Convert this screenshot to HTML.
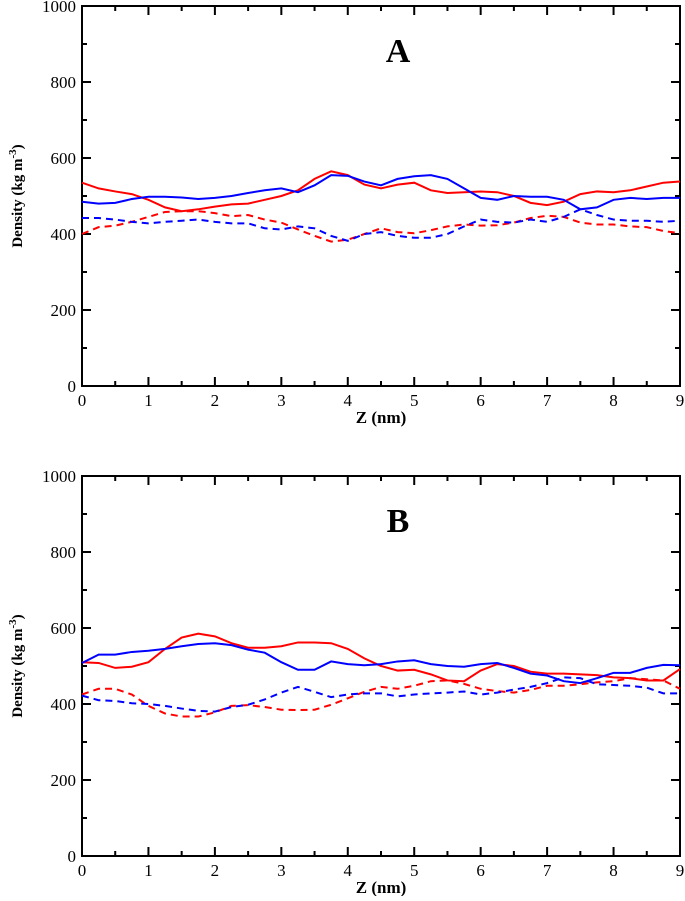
<!DOCTYPE html>
<html><head><meta charset="utf-8"><style>
body{margin:0;background:#fff}
svg text{font-family:"Liberation Serif",serif;fill:#000}
</style></head><body>
<svg id="c" width="685" height="896" xmlns="http://www.w3.org/2000/svg"></svg>
<script>
const xs=[0,0.25,0.5,0.75,1,1.25,1.5,1.75,2,2.25,2.5,2.75,3,3.25,3.5,3.75,4,4.25,4.5,4.75,5,5.25,5.5,5.75,6,6.25,6.5,6.75,7,7.25,7.5,7.75,8,8.25,8.5,8.75,9];
const aRedSolid=[535,520,512,505,490,470,460,465,472,478,480,490,500,515,545,565,555,530,520,530,535,515,508,510,512,510,500,482,476,485,505,512,510,515,525,535,538];
const aBlueSolid=[485,480,482,492,498,498,496,492,495,500,508,515,520,510,528,555,553,538,528,545,552,555,545,520,495,490,500,498,498,490,465,470,490,495,492,495,495];
const aRedDash=[400,418,422,432,445,458,460,460,455,447,450,438,430,412,395,380,385,400,415,405,402,410,420,425,422,423,430,442,448,445,430,425,425,420,418,408,402];
const aBlueDash=[442,442,438,432,428,432,435,438,432,428,428,415,412,420,415,395,382,400,405,395,390,390,400,420,438,432,430,438,432,445,465,450,438,435,435,432,435];
const bRedSolid=[510,508,495,498,510,545,575,585,578,560,548,548,552,562,562,560,545,520,500,488,490,478,462,460,488,505,500,485,480,480,478,476,470,468,462,462,492];
const bBlueSolid=[508,530,530,537,540,545,552,558,560,555,543,535,510,490,490,512,505,502,505,512,515,505,500,498,505,508,495,480,475,460,455,468,482,482,495,503,502];
const bRedDash=[425,440,440,425,395,375,367,367,378,395,397,392,385,384,385,398,415,432,445,440,448,460,462,453,440,434,430,437,448,448,452,457,460,468,465,462,440];
const bBlueDash=[422,410,408,402,400,395,388,382,380,392,398,412,430,445,432,418,425,428,428,420,425,428,430,433,425,430,438,445,455,470,468,452,450,448,443,428,428];
const yTicks=[0,200,400,600,800,1000];
const xTicks=[0,1,2,3,4,5,6,7,8,9];

const NS="http://www.w3.org/2000/svg";
const svg=document.getElementById('c');
function el(t,a,p){const e=document.createElementNS(NS,t);for(const k in a)e.setAttribute(k,a[k]);(p||svg).appendChild(e);return e;}
function panel(id,top,letter,series){
  const L=82,R=680,T=top,B=top+380;
  const X=v=>L+(v/9)*(R-L), Y=v=>B-(v/1000)*(B-T);
  const g=el('g',{});
  
  
  const fr=el('rect',{x:L,y:T,width:R-L,height:B-T,fill:'none',stroke:'#000','stroke-width':2},g);
  
  
  for(let v=0;v<=1000;v+=100){
    const len=v%200===0?9:5;
    el('line',{x1:L,x2:L+len,y1:Y(v),y2:Y(v),stroke:'#000','stroke-width':2},g);
    el('line',{x1:R,x2:R-len,y1:Y(v),y2:Y(v),stroke:'#000','stroke-width':2},g);
  }
  for(let v=0;v<=9;v+=0.5){
    const len=Number.isInteger(v)?9:5;
    el('line',{x1:X(v),x2:X(v),y1:B,y2:B-len,stroke:'#000','stroke-width':2},g);
    el('line',{x1:X(v),x2:X(v),y1:T,y2:T+len,stroke:'#000','stroke-width':2},g);
  }
  yTicks.forEach(v=>{const t=el('text',{x:L-6,y:Y(v)+6,'text-anchor':'end','font-size':17},g);t.textContent=v;
    
    });
  xTicks.forEach(v=>{const t=el('text',{x:X(v),y:B+20,'text-anchor':'middle','font-size':17},g);t.textContent=v;
    
    });
  const xt=el('text',{x:(L+R)/2,y:B+37,'text-anchor':'middle','font-size':17,'font-weight':'bold'},g);
  xt.textContent='Z (nm)';
  
  
  const yt=el('text',{transform:`translate(22,${(T+B)/2}) rotate(-90)`,'text-anchor':'middle','font-size':15,'font-weight':'bold'},g);
  yt.innerHTML='Density (kg m<tspan dy="-6" font-size="11">-3</tspan><tspan dy="6">)</tspan>';
  
  
  const lt=el('text',{x:398,y:T+56,'text-anchor':'middle','font-size':34,'font-weight':'bold'},g);
  lt.textContent=letter;
  
  
  series.forEach(s=>{
    const p=el('polyline',{points:xs.map((x,i)=>X(x)+','+Y(s.d[i])).join(' '),fill:'none',stroke:s.c,'stroke-width':2,'stroke-dasharray':s.dash?'7,5':'none'},g);
    
    
  });
}
panel('a',6,'A',[{d:aRedSolid,c:'#f00',n:'red-solid-line'},{d:aBlueSolid,c:'#00f',n:'blue-solid-line'},{d:aRedDash,c:'#f00',dash:1,n:'red-dashed-line'},{d:aBlueDash,c:'#00f',dash:1,n:'blue-dashed-line'}]);
panel('b',476,'B',[{d:bRedSolid,c:'#f00',n:'red-solid-line'},{d:bBlueSolid,c:'#00f',n:'blue-solid-line'},{d:bRedDash,c:'#f00',dash:1,n:'red-dashed-line'},{d:bBlueDash,c:'#00f',dash:1,n:'blue-dashed-line'}]);
</script>
</body></html>
